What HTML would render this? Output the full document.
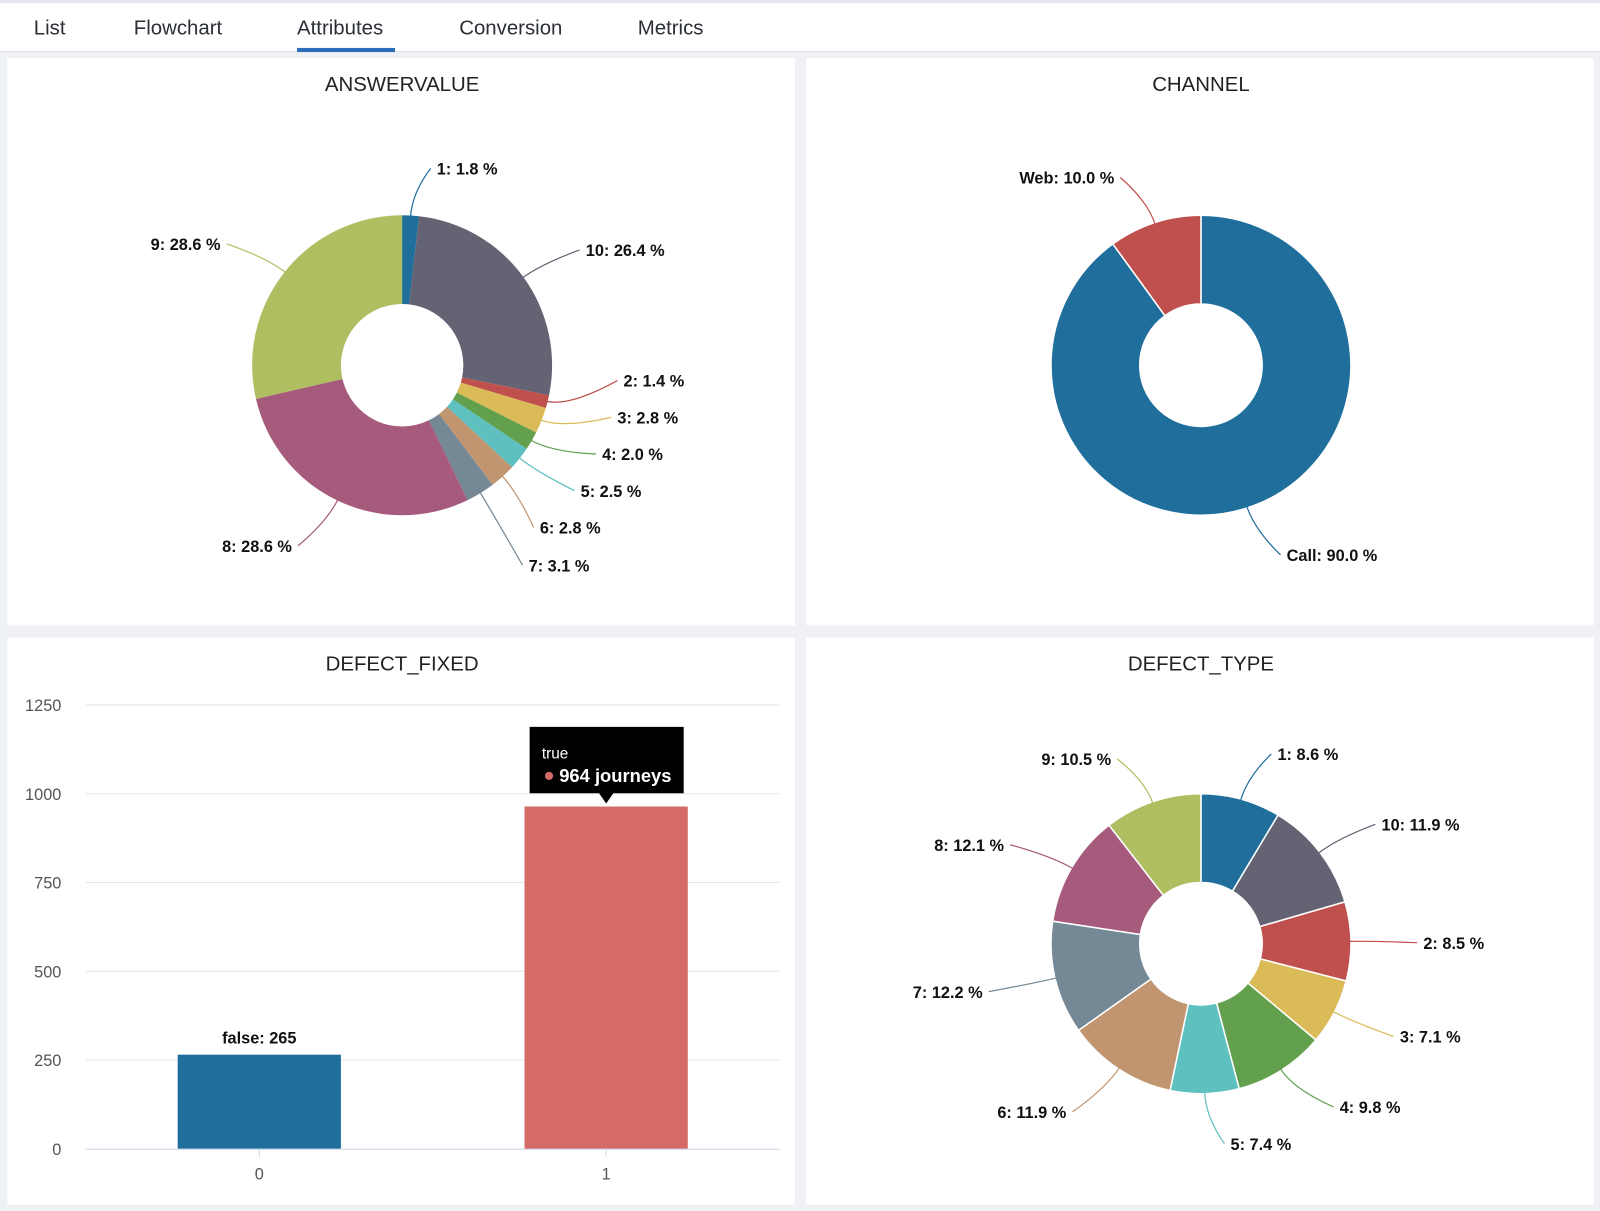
<!DOCTYPE html>
<html><head><meta charset="utf-8"><style>
html,body{margin:0;padding:0;background:#eff1f4;}
svg{display:block;font-family:"Liberation Sans",Arial,sans-serif;}
</style></head><body>
<svg id="s" width="1600" height="1211" viewBox="0 0 1568 1187">
<rect x="0" y="0" width="1568" height="1187" fill="#eff1f4"/>
<rect x="0" y="0" width="1568" height="3" fill="#e3e7ec"/>
<rect x="0" y="3" width="1568" height="47" fill="#ffffff"/>
<rect x="0" y="50" width="1568" height="1" fill="#dde2e8"/>
<g font-size="20" fill="#2b2f36">
<text x="33" y="34">List</text>
<text x="131" y="34">Flowchart</text>
<text x="291" y="34">Attributes</text>
<text x="450" y="34">Conversion</text>
<text x="625" y="34">Metrics</text>
</g>
<rect x="291" y="47" width="96" height="4" fill="#2a6ebb"/>
<rect x="7" y="57" width="772" height="556" fill="#fff"/>
<rect x="790" y="57" width="772" height="556" fill="#fff"/>
<rect x="7" y="625" width="772" height="556" fill="#fff"/>
<rect x="790" y="625" width="772" height="556" fill="#fff"/>
<g font-size="20" fill="#222" text-anchor="middle">
<text x="394" y="89">ANSWERVALUE</text>
<text x="1177" y="89">CHANNEL</text>
<text x="394" y="657">DEFECT_FIXED</text>
<text x="1177" y="657">DEFECT_TYPE</text>
</g>
<g id="charts"></g>
</svg>
<script>
// ANSWERVALUE
const ansCats = ['1','10','2','3','4','5','6','7','8','9'];
const ansVals = [1.8,26.4,1.4,2.8,2.0,2.5,2.8,3.1,28.6,28.6];
// CHANNEL
const chCats = ['Call','Web'];
const chVals = [90.0,10.0];
// DEFECT_TYPE
const dtCats = ['1','10','2','3','4','5','6','7','8','9'];
const dtVals = [8.6,11.9,8.5,7.1,9.8,7.4,11.9,12.2,12.1,10.5];
// DEFECT_FIXED
const dfCats = ['0','1'];
const dfNames = ['false','true'];
const dfVals = [265,964];
const dfTicks = [0,250,500,750,1000,1250];

const NS='http://www.w3.org/2000/svg';
const root=document.getElementById('charts');
function mk(tag,attrs,parent){const e=document.createElementNS(NS,tag);for(const k in attrs)e.setAttribute(k,attrs[k]);(parent||root).appendChild(e);return e;}
const colMap={'1':'#1f6e9c','10':'#636374','2':'#c0504d','3':'#dbbb58','4':'#62a04e','5':'#5fc0c0','6':'#c09570','7':'#748895','8':'#a65a7c','9':'#afbe60'};

// label layout (positions, not data): [x, y, anchor]
const ansLab={'1':[428,166,'start'],'10':[574,246,'start'],'2':[611,374,'start'],'3':[605,410,'start'],'4':[590,446,'start'],'5':[569,482,'start'],'6':[529,518,'start'],'7':[518,555,'start'],'8':[286,536,'end'],'9':[216,240,'end']};
const chLab={'Web':[1092,175,'end'],'Call':[1261,545,'start']};
const dtLab={'1':[1252,740,'start'],'10':[1354,809,'start'],'2':[1395,925,'start'],'3':[1372,1017,'start'],'4':[1313,1086,'start'],'5':[1206,1122,'start'],'6':[1045,1091,'end'],'7':[963,973,'end'],'8':[984,829,'end'],'9':[1089,745,'end']};

function donut(name,cx,cy,R,r,cats,vals,colors,labs,stroke){
  const g=mk('g',{});
  
  
  const tot=vals.reduce((a,b)=>a+b,0);
  let a0=0;
  cats.forEach((c,i)=>{
    const a1=a0+vals[i]/tot*Math.PI*2;
    const p=(a,rr)=>[cx+rr*Math.sin(a),cy-rr*Math.cos(a)];
    const [x0,y0]=p(a0,R),[x1,y1]=p(a1,R),[x2,y2]=p(a1,r),[x3,y3]=p(a0,r);
    const lg=(a1-a0)>Math.PI?1:0;
    const path=mk('path',{d:`M${x0},${y0}A${R},${R} 0 ${lg} 1 ${x1},${y1}L${x2},${y2}A${r},${r} 0 ${lg} 0 ${x3},${y3}Z`,fill:colors(c,i),stroke:stroke?'#fff':'none','stroke-width':stroke?1.5:0},g);
    
    
    const am=(a0+a1)/2;
    const L=labs[c];
    if(L){
      const [sx,sy]=p(am,R-2);
      const [mx,my]=p(am,R+22);
      const ex=L[2]==='start'?L[0]-6:L[0]+6, ey=L[1]-1;
      mk('path',{d:`M${sx},${sy}Q${mx},${my} ${ex},${ey}`,fill:'none',stroke:colors(c,i),'stroke-width':1.2},g);
      const t=mk('text',{x:L[0],y:L[1]+5,'text-anchor':L[2],'font-size':16,'font-weight':'bold',fill:'#111'},g);
      t.textContent=c+': '+(vals[i]/tot*100).toFixed(1)+' %';
      
      
    }
    a0=a1;
  });
}
donut('answervalue',394,358,147,60,ansCats,ansVals,c=>colMap[c],ansLab,false);
donut('channel',1177,358,147,60,chCats,chVals,(c,i)=>['#1f6e9c','#c0504d'][i],chLab,true);
donut('defect-type',1177,925,147,60,dtCats,dtVals,c=>colMap[c],dtLab,true);

// bar chart
const px0=84,px1=764,py0=1126,py1=691,ymax=1250;
const yS=v=>py0-(v/ymax)*(py0-py1);
const bw=(px1-px0)/dfCats.length;
const xS=i=>px0+bw*(i+0.5);
const bg=mk('g',{});


dfTicks.forEach(t=>{
  if(t>0){const l=mk('line',{x1:px0,x2:px1,y1:yS(t),y2:yS(t),stroke:'#e6e6e6','stroke-width':1},bg);
  }
  const tx=mk('text',{x:60,y:yS(t)+6,'text-anchor':'end','font-size':16,fill:'#555'},bg);
  tx.textContent=t;
  
  
});
const barCols=['#1f6e9c','#d46b67'];
dfCats.forEach((c,i)=>{
  const w=160;
  const r=mk('rect',{x:xS(i)-w/2,y:yS(dfVals[i]),width:w,height:py0-yS(dfVals[i]),fill:barCols[i]},bg);
  
  
  const tx=mk('text',{x:xS(i),y:py0+30,'text-anchor':'middle','font-size':16,fill:'#555'},bg);
  tx.textContent=c;
  
  
  mk('line',{x1:xS(i),x2:xS(i),y1:py0,y2:py0+8,stroke:'#ccd6eb'},bg);
});
mk('line',{x1:px0,x2:px1,y1:py0+0.5,y2:py0+0.5,stroke:'#ccd6eb','stroke-width':1},bg);
const dl=mk('text',{x:xS(0),y:yS(dfVals[0])-11,'text-anchor':'middle','font-size':16,'font-weight':'bold',fill:'#111'},bg);
dl.textContent=dfNames[0]+': '+dfVals[0];


// tooltip
const tg=mk('g',{},bg);


const tx0=xS(1), ty=yS(dfVals[1]);
mk('path',{d:`M${tx0-75},${ty-78}h151v65h-69l-7,10l-7,-10h-68z`,fill:'#000'},tg);
const t1=mk('text',{x:tx0-63,y:ty-47,'font-size':15,fill:'#fff'},tg);t1.textContent=dfNames[1];
mk('circle',{cx:tx0-56,cy:ty-30,r:4,fill:'#d46b67'},tg);
const t2=mk('text',{x:tx0-46,y:ty-24,'font-size':18,'font-weight':'bold',fill:'#fff'},tg);t2.textContent=dfVals[1]+' journeys';
</script>
</body></html>
